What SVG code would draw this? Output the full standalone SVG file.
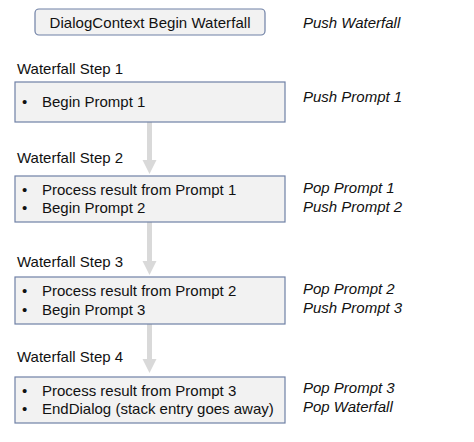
<svg xmlns="http://www.w3.org/2000/svg" width="474" height="442" viewBox="0 0 474 442">
<style>
text{font-family:"Liberation Sans",Arial,sans-serif;font-size:15px;fill:#111}
.it{font-style:italic}
.box{fill:#f2f2f2;stroke:#6f80a6;stroke-width:1.2}
.shaft{fill:#d9d9d9}
.head{fill:#d9d9d9}
</style>
<rect width="474" height="442" fill="#fff"/>
<g id="connectors">
<rect class="shaft" x="147" y="122" width="5" height="40"/>
<path class="head" d="M142.5,160 L156.5,160 L149.5,174 Z"/>
<rect class="shaft" x="147" y="222" width="5" height="41"/>
<path class="head" d="M142.5,261 L156.5,261 L149.5,275 Z"/>
<rect class="shaft" x="147" y="324" width="5" height="37"/>
<path class="head" d="M142.5,359 L156.5,359 L149.5,373 Z"/>
</g>
<g id="begin">
<rect class="box" x="35" y="9" width="230" height="26" rx="4"/>
<text x="150" y="27.5" text-anchor="middle" textLength="201">DialogContext Begin Waterfall</text>
<text class="it" x="303" y="27.5">Push Waterfall</text>
</g>
<g id="step1">
<text x="17" y="74">Waterfall Step 1</text>
<rect class="box" x="15" y="82" width="270" height="40"/>
<text x="22" y="106.5">•</text>
<text x="42" y="106.5">Begin Prompt 1</text>
<text class="it" x="303" y="102">Push Prompt 1</text>
</g>
<g id="step2">
<text x="17" y="163">Waterfall Step 2</text>
<rect class="box" x="15" y="176" width="270" height="46"/>
<text x="22" y="194.5">•</text>
<text x="42" y="194.5">Process result from Prompt 1</text>
<text x="22" y="212.5">•</text>
<text x="42" y="212.5">Begin Prompt 2</text>
<text class="it" x="303" y="193">Pop Prompt 1</text>
<text class="it" x="303" y="212">Push Prompt 2</text>
</g>
<g id="step3">
<text x="17" y="267">Waterfall Step 3</text>
<rect class="box" x="15" y="277" width="270" height="47"/>
<text x="22" y="296">•</text>
<text x="42" y="296">Process result from Prompt 2</text>
<text x="22" y="314.5">•</text>
<text x="42" y="314.5">Begin Prompt 3</text>
<text class="it" x="303" y="294">Pop Prompt 2</text>
<text class="it" x="303" y="313">Push Prompt 3</text>
</g>
<g id="step4">
<text x="17" y="362">Waterfall Step 4</text>
<rect class="box" x="15" y="377" width="270" height="46"/>
<text x="22" y="395.5">•</text>
<text x="42" y="395.5">Process result from Prompt 3</text>
<text x="22" y="414">•</text>
<text x="42" y="414">EndDialog (stack entry goes away)</text>
<text class="it" x="303" y="393">Pop Prompt 3</text>
<text class="it" x="303" y="412">Pop Waterfall</text>
</g>
</svg>
